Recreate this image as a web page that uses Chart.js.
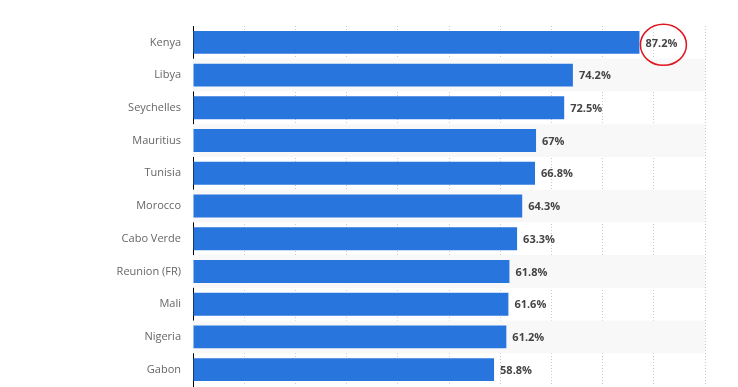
<!DOCTYPE html>
<html>
<head>
<meta charset="utf-8">
<script src="https://cdn.jsdelivr.net/npm/chart.js@4/dist/chart.umd.min.js"></script>
<style>
  html, body { margin: 0; padding: 0; background: #fff; }
  #wrap { width: 738px; height: 387px; }
</style>
</head>
<body>
<div id="wrap"><canvas id="chart"></canvas></div>
<script>
const countries = ["Kenya", "Libya", "Seychelles", "Mauritius", "Tunisia", "Morocco", "Cabo Verde", "Reunion (FR)", "Mali", "Nigeria", "Gabon"];
const shares = [87.2, 74.2, 72.5, 67, 66.8, 64.3, 63.3, 61.8, 61.6, 61.2, 58.8];
const highlighted = "Kenya";

// light gray band behind every second row
const stripes = {
  id: "stripes",
  beforeDatasetsDraw(chart) {
    const { ctx, chartArea, scales } = chart;
    const y = scales.y;
    const step = y.getPixelForValue(1) - y.getPixelForValue(0);
    ctx.save();
    ctx.fillStyle = "#f8f8f8";
    countries.forEach((c, i) => {
      if (i % 2 === 1) {
        const cy = y.getPixelForValue(i);
        ctx.fillRect(chartArea.left, cy - step / 2, chartArea.right - chartArea.left, step);
      }
    });
    ctx.restore();
  }
};

// value labels + red ring round the highlighted one
const valueLabels = {
  id: "valueLabels",
  afterDatasetsDraw(chart) {
    const { ctx } = chart;
    const meta = chart.getDatasetMeta(0);
    ctx.save();
    ctx.font = "bold 11px 'Open Sans', sans-serif";
    ctx.fillStyle = "#444";
    ctx.textBaseline = "middle";
    meta.data.forEach((bar, i) => {
      const txt = shares[i] + "%";
      const x = bar.x + 6;
      ctx.fillText(txt, x, bar.y + 1);
      if (countries[i] === highlighted) {
        const w = ctx.measureText(txt).width;
        ctx.beginPath();
        ctx.strokeStyle = "#e0141e";
        ctx.lineWidth = 1.5;
        ctx.ellipse(x + w / 2 + 2, bar.y + 2.5, 23, 20.5, 0, 0, Math.PI * 2);
        ctx.stroke();
      }
    });
    ctx.restore();
  }
};

new Chart(document.getElementById("chart"), {
  type: "bar",
  data: {
    labels: countries,
    datasets: [{
      data: shares,
      backgroundColor: "#2876dd",
      barPercentage: 0.7,
      categoryPercentage: 1
    }]
  },
  options: {
    indexAxis: "y",
    responsive: true,
    maintainAspectRatio: false,
    animation: false,
    layout: { padding: { top: 26, right: 33, bottom: 1, left: 0 } },
    plugins: { legend: { display: false }, tooltip: { enabled: false } },
    scales: {
      x: {
        min: 0, max: 100,
        ticks: { display: false, stepSize: 10 },
        grid: { color: "#c8c8c8", drawTicks: false, tickBorderDash: [1, 2] },
        border: { display: false, dash: [1, 2] },
        afterFit: s => { s.height = 0; }
      },
      y: {
        grid: { display: false, drawTicks: false },
        border: { display: true, color: "#000", width: 1 },
        ticks: { color: "#666", padding: 12, font: { family: "'Open Sans', sans-serif", size: 11 } },
        afterFit: s => { s.width = 193; s.paddingTop = 0; s.paddingBottom = 0; }
      }
    }
  },
  plugins: [stripes, valueLabels]
});
</script>
</body>
</html>
